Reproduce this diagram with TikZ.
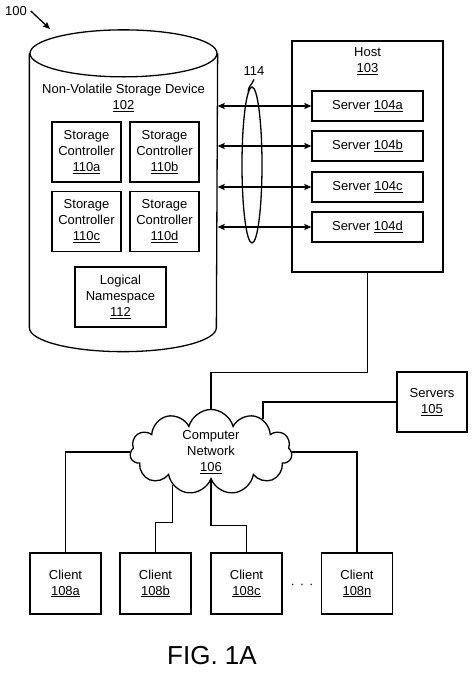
\documentclass[tikz,border=0pt]{standalone}
\usepackage{fontspec}
\setmainfont{Liberation Sans}
\usetikzlibrary{arrows.meta,positioning,shapes.symbols,shapes.geometric}

\begin{document}
\begin{tikzpicture}[x=1pt, y=-1pt, >={Stealth[length=7pt, width=6pt, inset=1pt]}, line width=1.3pt,
  font=\fontsize{13}{16}\selectfont,
  every box/.style={draw, align=center, inner sep=0pt},
  ctrl/.style={every box/.try, minimum width=69pt, minimum height=60pt},
  server/.style={every box/.try, minimum width=111pt, minimum height=30pt},
  client/.style={every box/.try, minimum width=71pt, minimum height=61pt}]

\useasboundingbox (0,0) rectangle (474,673);

\node (label-100) at (16,11) {100};
\coordinate (tip-100) at (50,29);
\draw [->] (label-100.east) -- (tip-100);

\node [minimum width=187pt, minimum height=273pt, inner sep=0pt] (device) at (123.5,190.5) {};
\draw (device.north west) -- (device.south west)
  arc [start angle=180, end angle=0, x radius=93.5, y radius=24] -- (device.north east);
\draw (device.north) ellipse [x radius=93.5, y radius=23.5];
\node [align=center] (device-name) at (123.5,98) {Non-Volatile Storage Device\\\underline{102}};

\foreach \m/\x/\y in {a/86.5/152, b/164.5/152, c/86.5/221.5, d/164.5/221.5}
  \node [ctrl] (ctrl-\m) at (\x,\y) {Storage\\Controller\\\underline{110\m}};

\node [every box/.try, minimum width=91pt, minimum height=60pt] (namespace) at (120.5,297) {Logical\\Namespace\\\underline{112}};

\node [every box/.try, minimum width=151pt, minimum height=231pt] (host) at (367.5,156.5) {};
\node [align=center] (host-name) at (367.5,61.5) {Host\\\underline{103}};

\foreach \m/\y in {a/106, b/146, c/187, d/227}
  \node [server] (server-\m) at (367.5,\y) {Server \underline{104\m}};

\foreach \m in {a,b,c,d}
  \draw [<->] (device.east |- server-\m.west) -- (server-\m.west);

\node [draw, ellipse, minimum width=20pt, minimum height=156pt, inner sep=0pt] (bundle) at (252,165) {};
\node (label-114) at (254,71) {114};
\draw (label-114.south) to [out=-110, in=90] (bundle.93);

\node [cloud, draw, cloud puffs=11, aspect=2, minimum width=162pt, minimum height=78pt,
  inner sep=0pt, align=center] (network) at (211,452) {Computer\\Network\\\underline{106}};

\node [every box/.try, minimum width=70pt, minimum height=60pt] (servers) at (432,402) {Servers\\\underline{105}};

\foreach \m/\x in {a/65.5, b/155.5, c/246.5, n/357}
  \node [client] (client-\m) at (\x,583.5) {Client\\\underline{108\m}};
\node (dots) at (302,586) {·\hspace{5pt}·\hspace{5pt}·};

\draw (host.south) -- ++(0,100) -| (network.north);
\draw (servers.west) -| (network.32);
\draw (network.east) -| (client-n.north);
\draw (network.west) -| (client-a.north);
\draw (client-b.north) -- ++(0,-30) -| (network.220);
\draw (client-c.north) -- ++(0,-27) -| (network.south);

\node [font=\fontsize{26}{30}\selectfont] (fig-label) at (212,656) {FIG. 1A};

\end{tikzpicture}
\end{document}
